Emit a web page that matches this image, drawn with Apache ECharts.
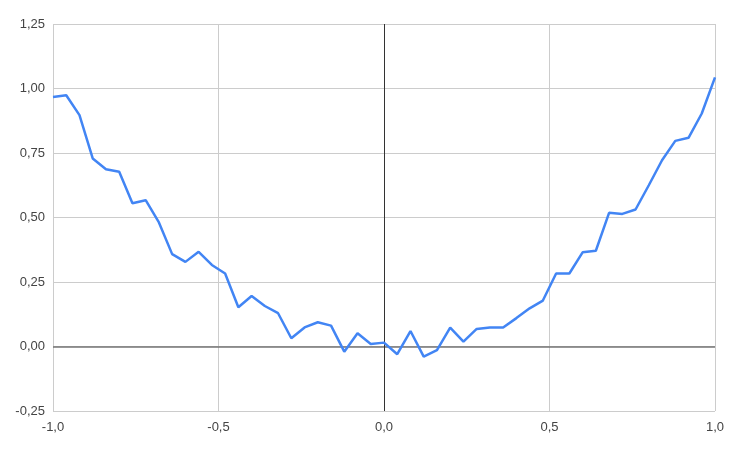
<!DOCTYPE html>
<html>
<head>
<meta charset="utf-8">
<script src="https://cdn.jsdelivr.net/npm/echarts@6/dist/echarts.min.js"></script>
<style>
  html, body { margin: 0; padding: 0; background: #fff; }
  #chart { width: 736px; height: 449px; }
</style>
</head>
<body>
<div id="chart"></div>
<script>
    // x from -1 to 1, step 0.04
    var xValues = [-1.00, -0.96, -0.92, -0.88, -0.84, -0.80, -0.76, -0.72, -0.68, -0.64,
                   -0.60, -0.56, -0.52, -0.48, -0.44, -0.40, -0.36, -0.32, -0.28, -0.24,
                   -0.20, -0.16, -0.12, -0.08, -0.04, 0.00, 0.04, 0.08, 0.12, 0.16,
                   0.20, 0.24, 0.28, 0.32, 0.36, 0.40, 0.44, 0.48, 0.52, 0.56,
                   0.60, 0.64, 0.68, 0.72, 0.76, 0.80, 0.84, 0.88, 0.92, 0.96, 1.00];
    var yValues = [0.967, 0.974, 0.897, 0.729, 0.687, 0.677, 0.555, 0.567, 0.481, 0.358,
                   0.328, 0.367, 0.316, 0.283, 0.152, 0.196, 0.157, 0.129, 0.032, 0.074,
                   0.094, 0.081, -0.020, 0.051, 0.010, 0.015, -0.030, 0.060, -0.039, -0.014,
                   0.073, 0.019, 0.068, 0.074, 0.074, 0.110, 0.148, 0.178, 0.283, 0.283,
                   0.365, 0.371, 0.518, 0.514, 0.531, 0.625, 0.722, 0.797, 0.809, 0.903, 1.043];

    var points = xValues.map(function (x, i) { return [x, yValues[i]]; });

    function comma(v, d) {
        return v.toFixed(d).replace('.', ',');
    }

    var chart = echarts.init(document.getElementById('chart'));

    var option = {
        animation: false,
        grid: {
            left: 53,
            right: 21,
            top: 24,
            bottom: 38
        },
        xAxis: {
            type: 'value',
            min: -1,
            max: 1,
            interval: 0.5,
            axisLine: { show: false },
            axisTick: { show: false },
            axisLabel: {
                color: '#444',
                fontSize: 13,
                fontFamily: 'Arial, "Liberation Sans", sans-serif',
                margin: 10,
                formatter: function (v) { return comma(v, 1); }
            },
            splitLine: { show: true, lineStyle: { color: '#cccccc', width: 1 } }
        },
        yAxis: {
            type: 'value',
            min: -0.25,
            max: 1.25,
            interval: 0.25,
            axisLine: { show: false },
            axisTick: { show: false },
            axisLabel: {
                color: '#444',
                fontSize: 13,
                fontFamily: 'Arial, "Liberation Sans", sans-serif',
                margin: 8,
                padding: [3, 0, 0, 0],
                formatter: function (v) { return comma(v, 2); }
            },
            splitLine: { show: true, lineStyle: { color: '#cccccc', width: 1 } }
        },
        series: [
            {
                type: 'line',
                data: points,
                showSymbol: false,
                symbol: 'none',
                lineStyle: { color: '#4285f4', width: 2.5 },
                markLine: {
                    silent: true,
                    symbol: 'none',
                    label: { show: false },
                    z: 1,
                    data: [
                        { yAxis: 0, lineStyle: { color: '#757575', width: 1.5, type: 'solid' } },
                        { xAxis: 0, lineStyle: { color: '#333333', width: 1, type: 'solid' } }
                    ]
                },
                z: 3
            }
        ]
    };

    chart.setOption(option);
</script>
</body>
</html>
